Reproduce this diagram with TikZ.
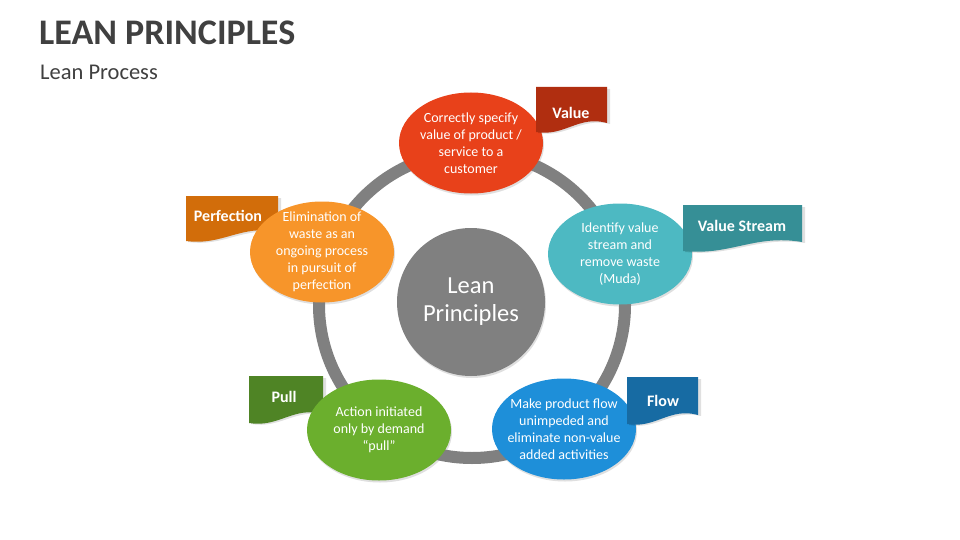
\documentclass[tikz,border=0pt]{standalone}
\usepackage{fontspec}
\setmainfont{Carlito}
\usetikzlibrary{shapes.geometric,shadows}
\definecolor{titlegray}{HTML}{404040}
\definecolor{ringgray}{HTML}{808080}
\definecolor{valE}{HTML}{E8411A}
\definecolor{valF}{HTML}{B02E10}
\definecolor{strE}{HTML}{4DB9C2}
\definecolor{strF}{HTML}{368F96}
\definecolor{floE}{HTML}{1E8FD9}
\definecolor{floF}{HTML}{176BA3}
\definecolor{pulE}{HTML}{6BAF2D}
\definecolor{pulF}{HTML}{4F8425}
\definecolor{perE}{HTML}{F7952A}
\definecolor{perF}{HTML}{D26D0A}
\tikzset{
  stage/.style={ellipse, minimum width=144pt, minimum height=101pt, inner sep=0pt,
    drop shadow={shadow xshift=1pt, shadow yshift=-2pt, opacity=0.25}},
  stagetext/.style={text=white, align=center, inner sep=0pt, font=\fontsize{14}{17}\selectfont},
  flagtext/.style={text=white, font=\fontsize{16}{18}\selectfont\bfseries, inner sep=0pt},
  flagshadow/.style={fill=black, opacity=0.12},
}
\newcommand{\flagshape}[5]{% x1 y1 x2 yb colour
  \fill[flagshadow] ({#1+2},{#2+2}) -- ({#3+3},{#2+2}) -- ({#3+3},{#4-8}) .. controls ({#3-0.4*(#3-#1)+2},{#4-15}) and ({#1+0.4*(#3-#1)+2},{#4+6}) .. ({#1+2},{#4+1}) -- cycle;
  \fill[#5] (#1,#2) -- (#3,#2) -- (#3,{#4-9}) .. controls ({#3-0.4*(#3-#1)},{#4-17}) and ({#1+0.4*(#3-#1)},{#4+5}) .. (#1,#4) -- cycle;
}
\begin{document}
\begin{tikzpicture}[x=1pt,y=-1pt]
\useasboundingbox (0,0) rectangle (960,540);
\fill[white] (0,0) rectangle (960,540);

% titles
\node[anchor=base west, inner sep=0pt, text=titlegray, font=\fontsize{36}{40}\selectfont\bfseries] (title) at (39,45) {LEAN PRINCIPLES};
\node[anchor=base west, inner sep=0pt, text=titlegray, font=\fontsize{22.5}{26}\selectfont] (subtitle) at (40,80) {Lean Process};

% ring
\draw[ringgray, line width=12pt] (472,305) circle[radius=153pt];

% centre
\node[circle, fill=ringgray, minimum size=148pt, inner sep=0pt, text=white, align=center,
  font=\fontsize{24.5}{28}\selectfont,
  drop shadow={shadow xshift=1pt, shadow yshift=-2pt, opacity=0.25}] (centre) at (471,302) {Lean\\Principles};

% left-hand flags (behind ellipses)
\flagshape{186}{196}{278}{241}{perF}
\node[flagtext] (perflag) at (228,216) {Perfection};
\flagshape{249}{376}{323}{423}{pulF}
\node[flagtext] (pulflag) at (284,397) {Pull};

% stages
\node[stage, fill=valE] (value) at (471,143) {};
\node[stagetext] (valuetext) at (value.center) {Correctly specify\\value of product /\\service to a\\customer};
\node[stage, fill=strE] (stream) at (620,254) {};
\node[stagetext] (streamtext) at (stream.center) {Identify value\\stream and\\remove waste\\(Muda)};
\node[stage, fill=floE] (flow) at (564,429) {};
\node[stagetext] (flowtext) at (flow.center) {Make product flow\\unimpeded and\\eliminate non-value\\added activities};
\node[stage, fill=pulE] (pull) at (379,430) {};
\node[stagetext] (pulltext) at (pull.center) {Action initiated\\only by demand\\“pull”};
\node[stage, fill=perE] (perf) at (322,252) {};
\node[stagetext] (perftext) at (perf.center) {Elimination of\\waste as an\\ongoing process\\in pursuit of\\perfection};

% right-hand flags (in front)
\flagshape{536}{87}{607}{132}{valF}
\node[flagtext] (valflag) at (571,113) {Value};
\flagshape{683}{205}{802}{251}{strF}
\node[flagtext] (strflag) at (742,226) {Value Stream};
\flagshape{627}{377}{698}{424}{floF}
\node[flagtext] (floflag) at (663,401) {Flow};
\end{tikzpicture}
\end{document}
